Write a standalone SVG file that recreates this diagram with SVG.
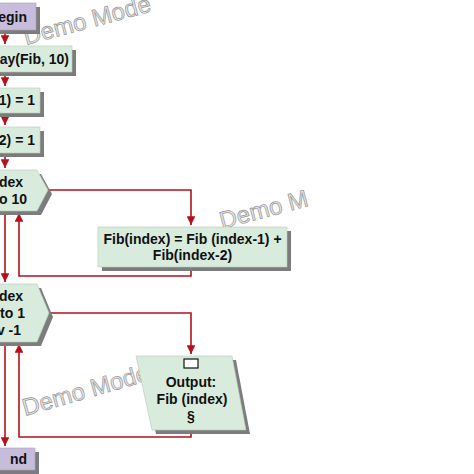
<svg xmlns="http://www.w3.org/2000/svg" width="474" height="474" viewBox="0 0 474 474">
<style>
.t{font-family:"Liberation Sans",Arial,sans-serif;font-weight:bold;font-size:14px;fill:#111}
.e{text-anchor:end}
.m{text-anchor:middle}
.g{fill:#d8ebdc;stroke:#b8c8bc;stroke-width:0.6}
.p{fill:#c7bcdc;stroke:#aaa0bb;stroke-width:0.6}
.s{fill:#7c7c7c}
.c{fill:none;stroke:#b3121a;stroke-width:1.6}
.w{font-family:"Liberation Sans",Arial,sans-serif;font-size:24px;fill:#e6e6e6;stroke:#959595;stroke-width:0.7}
</style>
<defs>
<marker id="a" viewBox="0 0 10 10" refX="10" refY="5" markerWidth="5.5" markerHeight="5.5" orient="auto" markerUnits="strokeWidth">
<path d="M0,0 L10,5 L0,10 z" fill="#b3121a"/>
</marker>
</defs>
<rect width="474" height="474" fill="#ffffff"/>
<g id="watermarks">
<text class="w" transform="translate(26,45) rotate(-15)">Demo Mode</text>
<text class="w" transform="translate(222,229) rotate(-15)">Demo M</text>
<text class="w" transform="translate(25,416) rotate(-16)">Demo Mode</text>
</g>
<g id="connectors">
<path class="c" d="M5,30 V44" marker-end="url(#a)"/>
<path class="c" d="M5,72 V86" marker-end="url(#a)"/>
<path class="c" d="M5,113 V125" marker-end="url(#a)"/>
<path class="c" d="M5,153 V168" marker-end="url(#a)"/>
<path class="c" d="M48,190 H191 V225" marker-end="url(#a)"/>
<path class="c" d="M191,267 V276 H19 V213" marker-end="url(#a)"/>
<path class="c" d="M5,211 V282" marker-end="url(#a)"/>
<path class="c" d="M49,313 H191 V354" marker-end="url(#a)"/>
<path class="c" d="M191,430 V437 H19 V344" marker-end="url(#a)"/>
<path class="c" d="M5,342 V446" marker-end="url(#a)"/>
</g>
<g id="begin">
<rect class="s" x="-16" y="7" width="56" height="27"/>
<rect class="p" x="-20" y="3" width="56" height="27"/>
<text class="t e" x="27" y="22">egin</text>
</g>
<g id="array">
<rect class="s" x="-16" y="50" width="92" height="26"/>
<rect class="g" x="-20" y="46" width="92" height="26"/>
<text class="t e" x="69" y="64">ay(Fib, 10)</text>
</g>
<g id="fib1">
<rect class="s" x="-16" y="92" width="60" height="25"/>
<rect class="g" x="-20" y="88" width="60" height="25"/>
<text class="t e" x="35" y="105">1) = 1</text>
</g>
<g id="fib2">
<rect class="s" x="-16" y="131" width="60" height="26"/>
<rect class="g" x="-20" y="127" width="60" height="26"/>
<text class="t e" x="35" y="145">2) = 1</text>
</g>
<g id="loop1">
<polygon class="s" points="-20,174 41,174 52,194 41,215 -20,215"/>
<polygon class="g" points="-20,170 37,170 48,190 37,211 -20,211"/>
<text class="t e" x="23" y="187">dex</text>
<text class="t e" x="27" y="204">o 10</text>
</g>
<g id="calc">
<rect class="s" x="102" y="231" width="189" height="40"/>
<rect class="g" x="98" y="227" width="189" height="40"/>
<text class="t m" x="192.5" y="244">Fib(index) = Fib (index-1) +</text>
<text class="t m" x="192.5" y="260">Fib(index-2)</text>
</g>
<g id="loop2">
<polygon class="s" points="-20,288 41,288 53,317 41,346 -20,346"/>
<polygon class="g" points="-20,284 37,284 49,313 37,342 -20,342"/>
<text class="t e" x="23" y="301">dex</text>
<text class="t e" x="25" y="318">to 1</text>
<text class="t e" x="21" y="335">v -1</text>
</g>
<g id="output">
<polygon class="s" points="140,360 236,360 250,434 156,434"/>
<polygon class="g" points="136,356 232,356 246,430 152,430"/>
<rect x="184" y="359" width="14" height="9" fill="#ffffff" stroke="#111" stroke-width="1.2"/>
<text class="t m" x="191" y="387">Output:</text>
<text class="t m" x="192" y="404">Fib (index)</text>
<text class="t m" x="191" y="421">§</text>
</g>
<g id="end">
<rect class="s" x="-16" y="452" width="55" height="22"/>
<rect class="p" x="-20" y="448" width="55" height="22"/>
<text class="t e" x="27" y="464">nd</text>
</g>
</svg>
